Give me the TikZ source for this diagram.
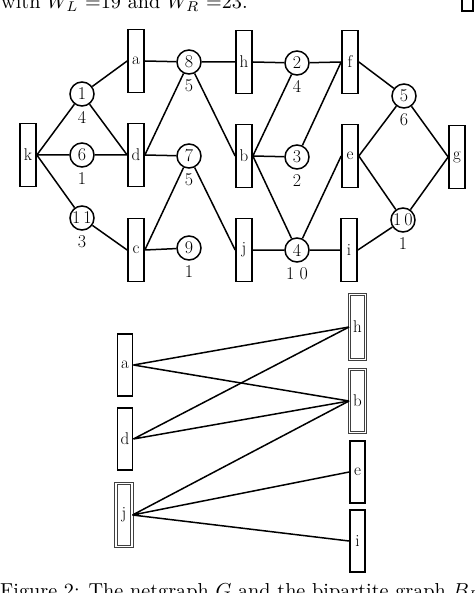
\documentclass[tikz,border=0pt]{standalone}
\usetikzlibrary{calc}
\tikzset{
 box/.style={draw, line width=1.7pt, minimum width=16pt, minimum height=63pt, inner sep=0pt, font=\fontsize{17}{17}\selectfont},
 dbox/.style={box, draw=black!75, line width=1pt, double, double distance=1.5pt, minimum width=16pt, minimum height=63pt},
 vtx/.style={draw, circle, line width=1.5pt, minimum size=24pt, inner sep=0pt, font=\fontsize{18}{18}\selectfont},
 edge/.style={line width=1.5pt},
 every label/.style={inner sep=0pt, font=\fontsize{18}{18}\selectfont},
 label distance=5pt
}

\begin{document}
\begin{tikzpicture}[x=1pt, y=-1pt]
 \useasboundingbox (0,0) rectangle (474,593);

 \node[anchor=base west, inner sep=0pt] (hdr) at (1,8.5) {\scalebox{2.02}{with $W_L$ =19 and $W_R$ =23.}};
 \draw[line width=1.4pt] (462,-3) rectangle (473,11);

 %ネットグラフ G
 \node[box] (k) at (28,155) {k};
 \node[box] (a) at (136,61) {a};
 \node[box] (d) at (136,155) {d};
 \node[box] (c) at (136,250) {c};
 \node[box] (h) at (244,62) {h};
 \node[box] (b) at (244,156) {b};
 \node[box] (j) at (244,250) {j};
 \node[box] (f) at (350,62) {f};
 \node[box] (e) at (350,156) {e};
 \node[box] (i) at (349,250) {i};
 \node[box] (g) at (457,157) {g};

 \node[vtx, label=below:4] (n1) at (82,94) {1};
 \node[vtx, label=below:1] (n6) at (82,155) {6};
 \node[vtx, label=below:3] (n11) at (82,218) {1\hspace{3pt}1};
 \node[vtx, label=below:5] (n8) at (189,62) {8};
 \node[vtx, label=below:5] (n7) at (189,156) {7};
 \node[vtx, label=below:1] (n9) at (189,248) {9};
 \node[vtx, label=below:4] (n2) at (297,63) {2};
 \node[vtx, label=below:2] (n3) at (297,157) {3};
 \node[vtx, label=below:1 0] (n4) at (297,250) {4};
 \node[vtx, label=below:6] (n5) at (404,96) {5};
 \node[vtx, label=below:1] (n10) at (403,220) {1\hspace{3pt}0};

 \draw[edge] (k.east) -- (n1) (k.east) -- (n6) (k.east) -- (n11);
 \draw[edge] (n1) -- (a.west) (n1) -- (d.west) (n6) -- (d.west) (n11) -- (c.west);
 \draw[edge] (a.east) -- (n8) (d.east) -- (n8) (d.east) -- (n7) (c.east) -- (n7) (c.east) -- (n9);
 \draw[edge] (n8) -- (h.west) (n8) -- (b.west) (n7) -- (j.west);
 \draw[edge] (h.east) -- (n2) (b.east) -- (n2) (b.east) -- (n3) (b.east) -- (n4) (j.east) -- (n4);
 \draw[edge] (n2) -- (f.west) (n3) -- (f.west) (n4) -- (e.west) (n4) -- (i.west);
 \draw[edge] (f.east) -- (n5) (e.east) -- (n5) (e.east) -- (n10) (i.east) -- (n10);
 \draw[edge] (n5) -- (g.west) (n10) -- (g.west);

 %二部グラフ B_R
 \node[box, minimum width=15pt, minimum height=62pt] (la) at (125,365) {a};
 \node[box, minimum width=15pt, minimum height=62pt] (ld) at (125,439) {d};
 \node[dbox] (lj) at (124,515) {j};
 \node[dbox, minimum height=65pt] (lh) at (357.5,327) {h};
 \node[dbox] (lb) at (357.5,401) {b};
 \node[box, minimum width=15pt, minimum height=62pt] (le) at (357.5,472) {e};
 \node[box, minimum width=15pt, minimum height=62pt] (li) at (357.5,541) {i};

 \draw[edge] (la.east) -- (lh.west) (la.east) -- (lb.west);
 \draw[edge] (ld.east) -- (lh.west) (ld.east) -- (lb.west);
 \draw[edge] (lj.east) -- (lb.west) (lj.east) -- (le.west) (lj.east) -- (li.west);

 \node[anchor=base west, inner sep=0pt] (cap) at (0,597) {\scalebox{2.02}{Figure 2: The netgraph $G$ and the bipartite graph $B_R$}};
\end{tikzpicture}
\end{document}
